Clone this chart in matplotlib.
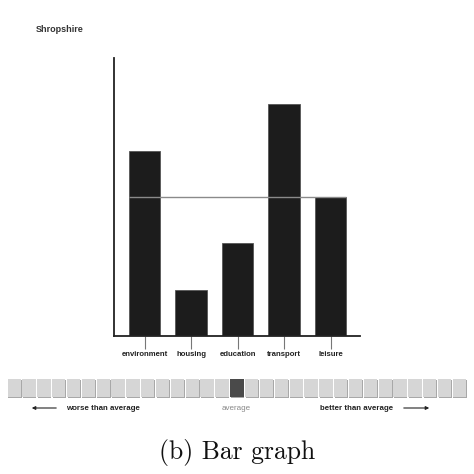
import matplotlib.pyplot as plt
from matplotlib.patches import Rectangle
import numpy as np

# data
categories = ['environment', 'housing', 'education', 'transport', 'leisure']
values = [4.0, 1.0, 2.0, 5.0, 3.0]
average = 3.0
region = 'Shropshire'
n_cells = 31
marked_cell = 15

fig = plt.figure(figsize=(4.74, 4.74), dpi=100)
fig.patch.set_facecolor('white')

ax = fig.add_axes([114/474, 1-336/474, 246/474, 278/474])
x = np.arange(len(categories))
ax.bar(x, values, width=0.67, color='#1c1c1c', edgecolor='#555555', linewidth=0.6, zorder=2)
ax.hlines(average, x[0]-0.335, x[-1]+0.335, color='#8a8a8a', linewidth=1.0, zorder=3)

ax.set_xlim(-0.656, 4.634)
ax.set_ylim(0, 6.0)
for s in ['top', 'right']:
    ax.spines[s].set_visible(False)
ax.spines['left'].set_linewidth(1.3)
ax.spines['bottom'].set_linewidth(1.3)
ax.spines['left'].set_color('#222222')
ax.spines['bottom'].set_color('#222222')
ax.set_yticks([])
ax.set_xticks(x)
ax.set_xticklabels(categories, fontfamily='Liberation Sans', fontweight='bold',
                   fontsize=5.6, color='#222222')
ax.tick_params(axis='x', direction='out', length=9, width=0.8, color='#777777', pad=2)

fig.text(36/474, 1-29/474, region, fontfamily='Liberation Sans', fontweight='bold',
         fontsize=6.5, color='#333333', va='center', ha='left')

# rating strip along the bottom
sx = fig.add_axes([7/474, 1-399/474, 460/474, 21/474])
sx.set_xlim(0, n_cells)
sx.set_ylim(0, 1)
sx.axis('off')
for i in range(n_cells):
    face = '#4a4a4a' if i == marked_cell else '#d6d6d6'
    sx.add_patch(Rectangle((i + 0.08, 0.05), 0.9, 0.86, facecolor='#a8a8a8', edgecolor='none'))
    sx.add_patch(Rectangle((i + 0.04, 0.1), 0.9, 0.86, facecolor=face, edgecolor='none'))

y_lab = 1 - 408/474
fig.text(66/474, y_lab, 'worse than average', fontfamily='Liberation Sans', fontweight='bold',
         fontsize=5.7, color='#222222', va='center', ha='left')
fig.text(236/474, y_lab, 'average', fontfamily='Liberation Sans',
         fontsize=5.8, color='#888888', va='center', ha='center')
fig.text(320/474, y_lab, 'better than average', fontfamily='Liberation Sans', fontweight='bold',
         fontsize=5.7, color='#222222', va='center', ha='left')
fig.add_artist(plt.Annotation('', xy=(29/474, y_lab), xytext=(59/474, y_lab),
                              xycoords='figure fraction',
                              arrowprops=dict(arrowstyle='-|>', color='#222222', lw=0.8,
                                              mutation_scale=5)))
fig.add_artist(plt.Annotation('', xy=(432/474, y_lab), xytext=(401/474, y_lab),
                              xycoords='figure fraction',
                              arrowprops=dict(arrowstyle='-|>', color='#222222', lw=0.8,
                                              mutation_scale=5)))

fig.text(0.5, 1-453/474, '(b) Bar graph', fontfamily='cmr10', fontsize=18.5,
         color='#111111', va='center', ha='center')

fig.savefig('out.png', dpi=100, facecolor='white')
